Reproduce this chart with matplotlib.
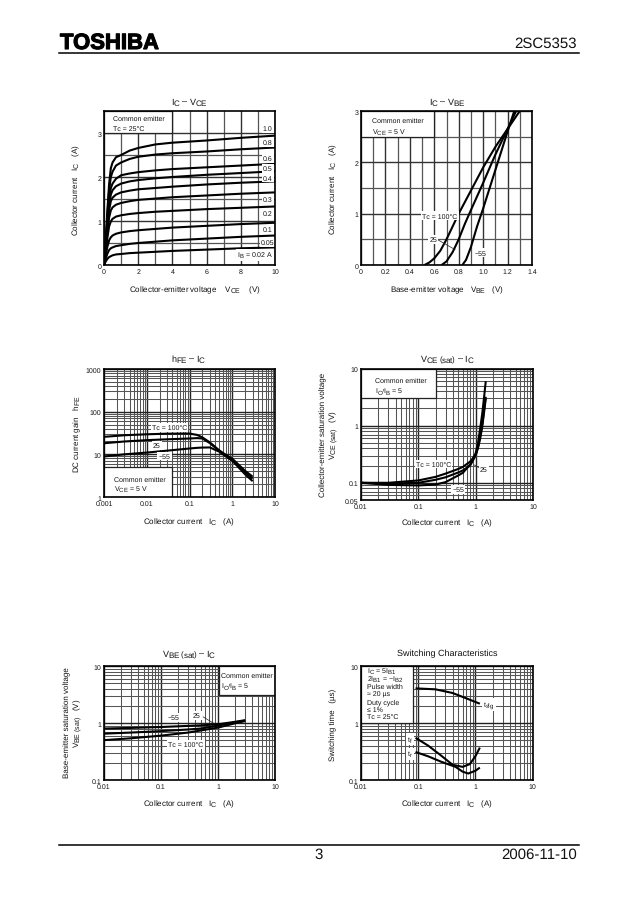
import matplotlib
matplotlib.use("Agg")
import matplotlib.pyplot as plt
import matplotlib.patheffects as pe
import matplotlib.ticker as mticker
import matplotlib._mathtext as mathtext_internal
from matplotlib.patches import Rectangle

plt.rcParams['font.family'] = ['Liberation Sans', 'DejaVu Sans']
plt.rcParams['mathtext.fontset'] = 'custom'
plt.rcParams['mathtext.rm'] = 'Liberation Sans'
plt.rcParams['mathtext.default'] = 'rm'
plt.rcParams['text.hinting'] = 'none'
plt.rcParams['text.hinting_factor'] = 1
# subscripts in the datasheet are almost full size
mathtext_internal.SHRINK_FACTOR = 0.85

W, H = 638, 903

# Ic - Vce
vce = [0, 0.1, 0.2, 0.3, 0.4, 0.5, 0.7, 1, 1.5, 2, 3, 4, 6, 8, 10]
ic_vce = {
    '1.0': [0, 0.55, 1.25, 1.85, 2.2, 2.33, 2.45, 2.5, 2.6, 2.66, 2.74, 2.78, 2.83, 2.89, 2.94],
    '0.8': [0, 0.5, 1.15, 1.7, 2.0, 2.12, 2.26, 2.33, 2.41, 2.46, 2.51, 2.54, 2.58, 2.63, 2.67],
    '0.6': [0, 0.45, 1.05, 1.5, 1.75, 1.85, 1.96, 2.04, 2.08, 2.11, 2.15, 2.18, 2.22, 2.26, 2.3],
    '0.5': [0, 0.42, 0.95, 1.38, 1.6, 1.7, 1.79, 1.85, 1.9, 1.93, 1.97, 2.0, 2.05, 2.09, 2.13],
    '0.4': [0, 0.4, 0.85, 1.25, 1.45, 1.53, 1.6, 1.65, 1.69, 1.72, 1.75, 1.78, 1.83, 1.87, 1.9],
    '0.3': [0, 0.36, 0.75, 1.08, 1.24, 1.31, 1.37, 1.41, 1.45, 1.48, 1.51, 1.54, 1.58, 1.62, 1.65],
    '0.2': [0, 0.3, 0.62, 0.88, 0.99, 1.05, 1.1, 1.13, 1.16, 1.18, 1.21, 1.23, 1.27, 1.3, 1.33],
    '0.1': [0, 0.22, 0.42, 0.56, 0.63, 0.67, 0.71, 0.74, 0.77, 0.79, 0.82, 0.85, 0.89, 0.93, 0.96],
    '0.05': [0, 0.14, 0.26, 0.34, 0.38, 0.4, 0.43, 0.45, 0.48, 0.5, 0.53, 0.56, 0.6, 0.64, 0.67],
    '0.02': [0, 0.08, 0.14, 0.18, 0.2, 0.22, 0.24, 0.25, 0.27, 0.28, 0.3, 0.32, 0.35, 0.38, 0.4],
}

# Ic - Vbe
vbe_100 = [0.52, 0.56, 0.6, 0.65, 0.7, 0.8, 0.9, 1.0, 1.1, 1.2, 1.3]
ic_100 = [0, 0.05, 0.13, 0.28, 0.5, 1.0, 1.45, 1.9, 2.3, 2.65, 3.0]
vbe_25 = [0.66, 0.7, 0.75, 0.8, 0.85, 0.9, 1.0, 1.1, 1.2, 1.27]
ic_25 = [0, 0.07, 0.25, 0.5, 0.8, 1.07, 1.6, 2.15, 2.65, 3.0]
vbe_55 = [0.83, 0.86, 0.9, 0.95, 1.0, 1.1, 1.2, 1.255]
ic_55 = [0, 0.1, 0.35, 0.75, 1.1, 1.85, 2.6, 3.0]

# hFE - Ic
ic_hfe = [0.001, 0.003, 0.01, 0.03, 0.1, 0.15, 0.2, 0.3, 0.5, 0.7, 1, 2, 3]
hfe_100 = [25.7, 28, 29.5, 30.5, 30.7, 28.5, 25, 19, 12.3, 9.8, 7.9, 4.1, 3.0]
hfe_25 = [18.2, 20, 21.5, 22.5, 23.5, 24, 23.5, 18.3, 11.9, 9.4, 7.5, 3.8, 2.7]
hfe_55 = [8.9, 10, 11, 12.2, 13.7, 14.2, 14.4, 14.5, 11.5, 9.0, 7.1, 3.4, 2.35]

# Vce(sat) - Ic
ic_vcesat = [0.01, 0.03, 0.1, 0.2, 0.3, 0.5, 0.6, 0.8, 1, 1.1, 1.2, 1.3, 1.4, 1.5]
vcesat_100 = [0.1, 0.1, 0.11, 0.127, 0.145, 0.175, 0.19, 0.235, 0.31, 0.41, 0.6, 0.95, 1.7, 3.0]
vcesat_25 = [0.1, 0.097, 0.1, 0.113, 0.125, 0.152, 0.165, 0.2, 0.3, 0.42, 0.65, 1.05, 1.85, 3.2]
vcesat_55 = [0.1, 0.092, 0.09, 0.093, 0.103, 0.135, 0.15, 0.21, 0.33, 0.5, 0.9, 1.6, 3.1, 6.0]

# Vbe(sat) - Ic
ic_vbesat = [0.01, 0.03, 0.1, 0.3, 0.5, 1, 2, 3]
vbesat_55 = [0.8, 0.82, 0.85, 0.89, 0.91, 0.95, 1.05, 1.12]
vbesat_25 = [0.65, 0.68, 0.72, 0.77, 0.8, 0.9, 1.03, 1.1]
vbesat_100 = [0.5, 0.54, 0.6, 0.68, 0.74, 0.83, 0.99, 1.08]

# Switching
ic_tstg = [0.09, 0.2, 0.4, 0.7, 1.2]
t_stg = [4.05, 3.9, 3.36, 2.7, 2.18]
ic_tf = [0.09, 0.15, 0.25, 0.4, 0.6, 0.8, 1, 1.2]
t_f = [0.55, 0.4, 0.27, 0.185, 0.17, 0.19, 0.26, 0.37]
ic_tr = [0.09, 0.15, 0.25, 0.45, 0.6, 0.75, 1, 1.2]
t_r = [0.31, 0.26, 0.21, 0.17, 0.14, 0.13, 0.145, 0.165]

switching_notes = ['I$_{C}$ = 5I$_{B1}$', '2I$_{B1}$ = −I$_{B2}$', 'Pulse width', '≈ 20 µs',
                   'Duty cycle', '≤ 1%', 'Tc = 25°C']
switching_rows = [671, 680.3, 687.5, 694.9, 702.4, 709.8, 717.3]

DECADES = [2, 3, 4, 5, 6, 7, 8, 9]


def px_text(fig, x, y, s, **kw):
    kw.setdefault('ha', 'center')
    kw.setdefault('va', 'center')
    return fig.text(x / W, 1 - y / H, s, **kw)


def make_axes(fig, left, right, top, bottom):
    ax = fig.add_axes([left / W, 1 - bottom / H, (right - left) / W, (bottom - top) / H])
    ax.set_axisbelow(True)
    for s in ax.spines.values():
        s.set_linewidth(1.2)
        s.set_zorder(6)
    ax.tick_params(which='both', length=0, labelsize=5.2, pad=2, labelcolor='#111111')
    return ax


def linear_grid(ax, xlim, ylim, xlab, ylab, xminor, yminor):
    ax.set_xlim(xlim)
    ax.set_ylim(ylim)
    ax.set_xticks(xlab)
    ax.set_xticklabels([str(v) for v in xlab])
    ax.set_yticks(ylab)
    ax.set_yticklabels([str(v) for v in ylab])
    ax.set_xticks(xminor, minor=True)
    ax.set_yticks(yminor, minor=True)
    ax.grid(which='major', color='#333333', lw=1.0)
    ax.grid(which='minor', color='#555555', lw=0.9)


def log_grid(ax, xlim, ylim, xlab, ylab):
    ax.set_xscale('log')
    ax.set_yscale('log')
    ax.set_xlim(xlim)
    ax.set_ylim(ylim)
    ax.set_xticks(xlab)
    ax.set_xticklabels([str(v) for v in xlab])
    ax.set_yticks(ylab)
    ax.set_yticklabels([str(v) for v in ylab])
    ax.xaxis.set_minor_locator(mticker.LogLocator(10, subs=DECADES, numticks=20))
    ax.yaxis.set_minor_locator(mticker.LogLocator(10, subs=DECADES, numticks=20))
    ax.xaxis.set_minor_formatter(mticker.NullFormatter())
    ax.yaxis.set_minor_formatter(mticker.NullFormatter())
    ax.grid(which='major', color='#222222', lw=1.0)
    ax.grid(which='minor', color='#555555', lw=0.75)


def box(ax, x0, x1, y0, y1):
    ax.add_patch(Rectangle((x0, y0), x1 - x0, y1 - y0, fc='white', ec='#222222', lw=0.9, zorder=2))


def note(ax, x, y, s, **kw):
    kw.setdefault('ha', 'center')
    kw.setdefault('va', 'center')
    ax.text(x, y, s, fontsize=5.2, zorder=4, color='#111111',
            bbox=dict(fc='white', ec='none', pad=0.8), **kw)


def curve(ax, x, y):
    ax.plot(x, y, color='black', lw=1.5, zorder=3, solid_capstyle='butt')


def leader(ax, x0, y0, x1, y1):
    ax.plot([x0, x1], [y0, y1], color='#222222', lw=0.5, zorder=4)


fig = plt.figure(figsize=(W / 100, H / 100), dpi=100, facecolor='white')

# page header and footer
fig.add_artist(plt.Line2D([58.6 / W, 578.6 / W], [1 - 53.6 / H] * 2, color='black', lw=1.1))
fig.add_artist(plt.Line2D([58.6 / W, 578.6 / W], [1 - 846 / H] * 2, color='black', lw=1.1))
logo = px_text(fig, 60, 50, 'TOSHIBA', ha='left', va='baseline', fontsize=15.9, fontweight='bold')
logo.set_path_effects([pe.withStroke(linewidth=0.8, foreground='black')])
px_text(fig, 577, 48, '2SC5353', ha='right', va='baseline', fontsize=10.7, color='#111111')
px_text(fig, 318.6, 859, '3', va='baseline', fontsize=10.7, color='#111111')
px_text(fig, 577, 859, '2006-11-10', ha='right', va='baseline', fontsize=10.7, color='#111111')

LAB = dict(fontsize=5.8, color='#111111')
TITLE = dict(fontsize=6.8, color='#111111')
BOX = dict(fontsize=5.0, va='center', zorder=4, color='#111111')

# chart 1
ax = make_axes(fig, 104, 275, 112, 266)
linear_grid(ax, (0, 10), (0, 3.5), [0, 2, 4, 6, 8, 10], [0, 1, 2, 3],
            [1, 3, 5, 7, 9], [0.5, 1.5, 2.5])
box(ax, 0, 4, 3, 3.5)
for ys in ic_vce.values():
    curve(ax, vce, ys)
ax.text(0.55, 3.33, 'Common emitter', **BOX)
ax.text(0.55, 3.12, 'Tc = 25°C', **BOX)
for lab, yy in zip(['1.0', '0.8', '0.6', '0.5', '0.4', '0.3', '0.2', '0.1', '0.05'],
                   [3.1, 2.79, 2.42, 2.2, 1.98, 1.5, 1.18, 0.81, 0.515]):
    note(ax, 9.57, yy, lab)
note(ax, 8.83, 0.23, 'I$_{B}$ = 0.02 A')
px_text(fig, 189, 102, 'I$_{C}$ – V$_{CE}$', **TITLE)
px_text(fig, 195, 290, 'Collector-emitter voltage    V$_{CE}$    (V)', **LAB)
px_text(fig, 76, 190, 'Collector current   I$_{C}$   (A)', rotation=90, **LAB)

# chart 2
ax = make_axes(fig, 361, 532, 112, 266)
linear_grid(ax, (0, 1.4), (0, 3), [0, 0.2, 0.4, 0.6, 0.8, 1.0, 1.2, 1.4], [0, 1, 2, 3],
            [0.1, 0.3, 0.5, 0.7, 0.9, 1.1, 1.3], [0.5, 1.5, 2.5])
box(ax, 0, 0.6, 2.5, 3)
curve(ax, vbe_100, ic_100)
curve(ax, vbe_25, ic_25)
curve(ax, vbe_55, ic_55)
ax.text(0.09, 2.83, 'Common emitter', **BOX)
ax.text(0.09, 2.62, 'V$_{CE}$ = 5 V', **BOX)
note(ax, 0.647, 0.96, 'Tc = 100°C')
leader(ax, 0.63, 0.49, 0.77, 0.3)
note(ax, 0.593, 0.5, '25')
note(ax, 0.98, 0.24, '−55')
px_text(fig, 447, 102, 'I$_{C}$ – V$_{BE}$', **TITLE)
px_text(fig, 447, 290, 'Base-emitter voltage   V$_{BE}$   (V)', **LAB)
px_text(fig, 333, 189, 'Collector current   I$_{C}$   (A)', rotation=90, **LAB)

# chart 3
ax = make_axes(fig, 104, 275, 370, 498)
log_grid(ax, (0.001, 10), (1, 1000), [0.001, 0.01, 0.1, 1, 10], [1, 10, 100, 1000])
box(ax, 0.001, 0.039, 1, 5)
curve(ax, ic_hfe, hfe_100)
curve(ax, ic_hfe, hfe_25)
curve(ax, ic_hfe, hfe_55)
ax.text(0.00175, 2.65, 'Common emitter', **BOX)
ax.text(0.00175, 1.65, 'V$_{CE}$ = 5 V', **BOX)
note(ax, 0.034, 42.6, 'Tc = 100°C')
note(ax, 0.0173, 16.4, '25')
note(ax, 0.026, 9.2, '−55')
px_text(fig, 189, 360, 'h$_{FE}$ – I$_{C}$', **TITLE)
px_text(fig, 189, 522, 'Collector current   I$_{C}$   (A)', **LAB)
px_text(fig, 77, 434, 'DC current gain   h$_{FE}$', rotation=90, **LAB)

# chart 4
ax = make_axes(fig, 361, 533, 369.5, 501)
log_grid(ax, (0.01, 10), (0.05, 10), [0.01, 0.1, 1, 10], [0.05, 0.1, 1, 10])
box(ax, 0.01, 0.2, 3, 10)
curve(ax, ic_vcesat, vcesat_100)
curve(ax, ic_vcesat, vcesat_25)
curve(ax, ic_vcesat, vcesat_55)
ax.text(0.0175, 6.3, 'Common emitter', **BOX)
ax.text(0.0175, 4.1, 'I$_{C}$/I$_{B}$ = 5', **BOX)
note(ax, 0.185, 0.214, 'Tc = 100°C')
leader(ax, 0.95, 0.205, 1.2, 0.178)
note(ax, 1.38, 0.171, '25')
note(ax, 0.5, 0.0765, '−55')
px_text(fig, 447, 360, 'V$_{CE\\ (sat)}$ – I$_{C}$', **TITLE)
px_text(fig, 447, 523, 'Collector current   I$_{C}$   (A)', **LAB)
px_text(fig, 323, 435, 'Collector-emitter saturation voltage', rotation=90, **LAB)
px_text(fig, 334, 435, 'V$_{CE\\ (sat)}$   (V)', rotation=90, **LAB)

# chart 5
ax = make_axes(fig, 104, 275, 667, 781)
log_grid(ax, (0.01, 10), (0.1, 10), [0.01, 0.1, 1, 10], [0.1, 1, 10])
box(ax, 1.05, 10, 3.1, 10)
curve(ax, ic_vbesat, vbesat_55)
curve(ax, ic_vbesat, vbesat_25)
curve(ax, ic_vbesat, vbesat_100)
ax.text(1.15, 6.8, 'Common emitter', **BOX)
ax.text(1.15, 4.4, 'I$_{C}$/I$_{B}$ = 5', **BOX)
note(ax, 0.166, 1.26, '−55')
leader(ax, 0.55, 1.28, 0.85, 0.98)
note(ax, 0.426, 1.36, '25')
note(ax, 0.276, 0.42, 'Tc = 100°C')
px_text(fig, 189, 655, 'V$_{BE\\ (sat)}$ – I$_{C}$', **TITLE)
px_text(fig, 189, 804, 'Collector current   I$_{C}$   (A)', **LAB)
px_text(fig, 67, 723, 'Base-emitter saturation voltage', rotation=90, **LAB)
px_text(fig, 78, 723, 'V$_{BE\\ (sat)}$   (V)', rotation=90, **LAB)

# chart 6
ax = make_axes(fig, 361, 532.5, 667, 781)
log_grid(ax, (0.01, 10), (0.1, 10), [0.01, 0.1, 1, 10], [0.1, 1, 10])
box(ax, 0.01, 0.08, 1, 10)
curve(ax, ic_tstg, t_stg)
curve(ax, ic_tf, t_f)
curve(ax, ic_tr, t_r)
for row, line in zip(switching_rows, switching_notes):
    px_text(fig, 367, row, line, ha='left', fontsize=4.8, color='#111111', zorder=5)
note(ax, 1.75, 2.1, 't$_{stg}$')
note(ax, 0.071, 0.52, 't$_{f}$')
note(ax, 0.071, 0.29, 't$_{r}$')
px_text(fig, 447, 654, 'Switching Characteristics', fontsize=6.8, color='#111111')
px_text(fig, 447, 804, 'Collector current   I$_{C}$   (A)', **LAB)
px_text(fig, 333, 725, 'Switching time   (µs)', rotation=90, **LAB)

fig.savefig('out.png', dpi=100)
